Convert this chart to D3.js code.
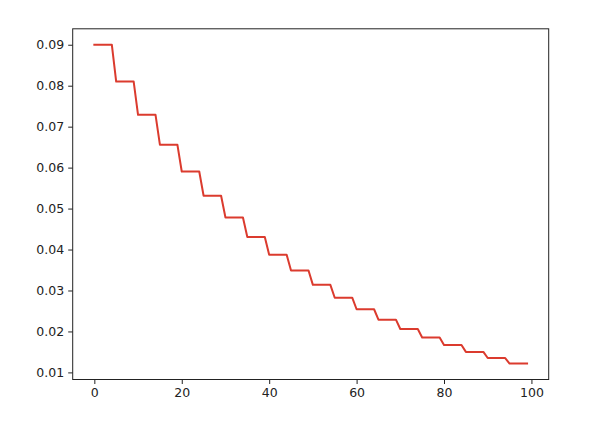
<!DOCTYPE html>
<html><head><meta charset="utf-8">
<script src="https://cdn.jsdelivr.net/npm/d3@7"></script>
<style>body{margin:0;background:#fff}svg{display:block}text{font-family:"DejaVu Sans",sans-serif}</style>
</head><body>
<svg id="c" width="600" height="422"></svg>
<script>
const epochs = d3.range(0, 100);
const lr = [
0.09,0.09,0.09,0.09,0.09,
0.081,0.081,0.081,0.081,0.081,
0.0729,0.0729,0.0729,0.0729,0.0729,
0.06561,0.06561,0.06561,0.06561,0.06561,
0.05905,0.05905,0.05905,0.05905,0.05905,
0.05314,0.05314,0.05314,0.05314,0.05314,
0.04783,0.04783,0.04783,0.04783,0.04783,
0.04305,0.04305,0.04305,0.04305,0.04305,
0.03874,0.03874,0.03874,0.03874,0.03874,
0.03487,0.03487,0.03487,0.03487,0.03487,
0.03138,0.03138,0.03138,0.03138,0.03138,
0.02824,0.02824,0.02824,0.02824,0.02824,
0.02542,0.02542,0.02542,0.02542,0.02542,
0.02288,0.02288,0.02288,0.02288,0.02288,
0.02059,0.02059,0.02059,0.02059,0.02059,
0.01853,0.01853,0.01853,0.01853,0.01853,
0.01668,0.01668,0.01668,0.01668,0.01668,
0.01501,0.01501,0.01501,0.01501,0.01501,
0.01351,0.01351,0.01351,0.01351,0.01351,
0.01216,0.01216,0.01216,0.01216,0.01216
];
const xTicks = [0, 20, 40, 60, 80, 100];
const yTicks = [0.01, 0.02, 0.03, 0.04, 0.05, 0.06, 0.07, 0.08, 0.09];

const svg = d3.select("#c");
const L = 72.7, R = 548.7, T = 28.8, B = 379.5;
const xmin = d3.min(epochs), xmax = d3.max(epochs), xm = (xmax - xmin) * 0.05;
const ymin = d3.min(lr), ymax = d3.max(lr), ym = (ymax - ymin) * 0.05;
const x = d3.scaleLinear().domain([xmin - xm, xmax + xm]).range([L, R]);
const y = d3.scaleLinear().domain([ymin - ym, ymax + ym]).range([B, T]);

const line = d3.line().x((d, i) => x(epochs[i])).y(d => y(d));
svg.append("path").datum(lr).attr("d", line)
  .attr("fill", "none").attr("stroke", "#db3b2e").attr("stroke-width", 2)
  .attr("stroke-linejoin", "round").attr("stroke-linecap", "square");

const xAxis = d3.axisBottom(x).tickValues(xTicks).tickSize(4.5).tickPadding(4).tickFormat(d3.format("d"));
const yAxis = d3.axisLeft(y).tickValues(yTicks).tickSize(4.5).tickPadding(4).tickFormat(d3.format(".2f"));
const gx = svg.append("g").attr("transform", `translate(0,${B})`).call(xAxis);
const gy = svg.append("g").attr("transform", `translate(${L},0)`).call(yAxis);
[gx, gy].forEach(g => {
  g.select(".domain").remove();
  g.selectAll("line").attr("stroke", "#222").attr("stroke-width", 1);
  g.selectAll("text").attr("fill", "#222").style("font-size", "12.5px");
});
svg.append("rect").attr("x", L).attr("y", T).attr("width", R - L).attr("height", B - T)
  .attr("fill", "none").attr("stroke", "#222").attr("stroke-width", 1);
</script>
</body></html>
